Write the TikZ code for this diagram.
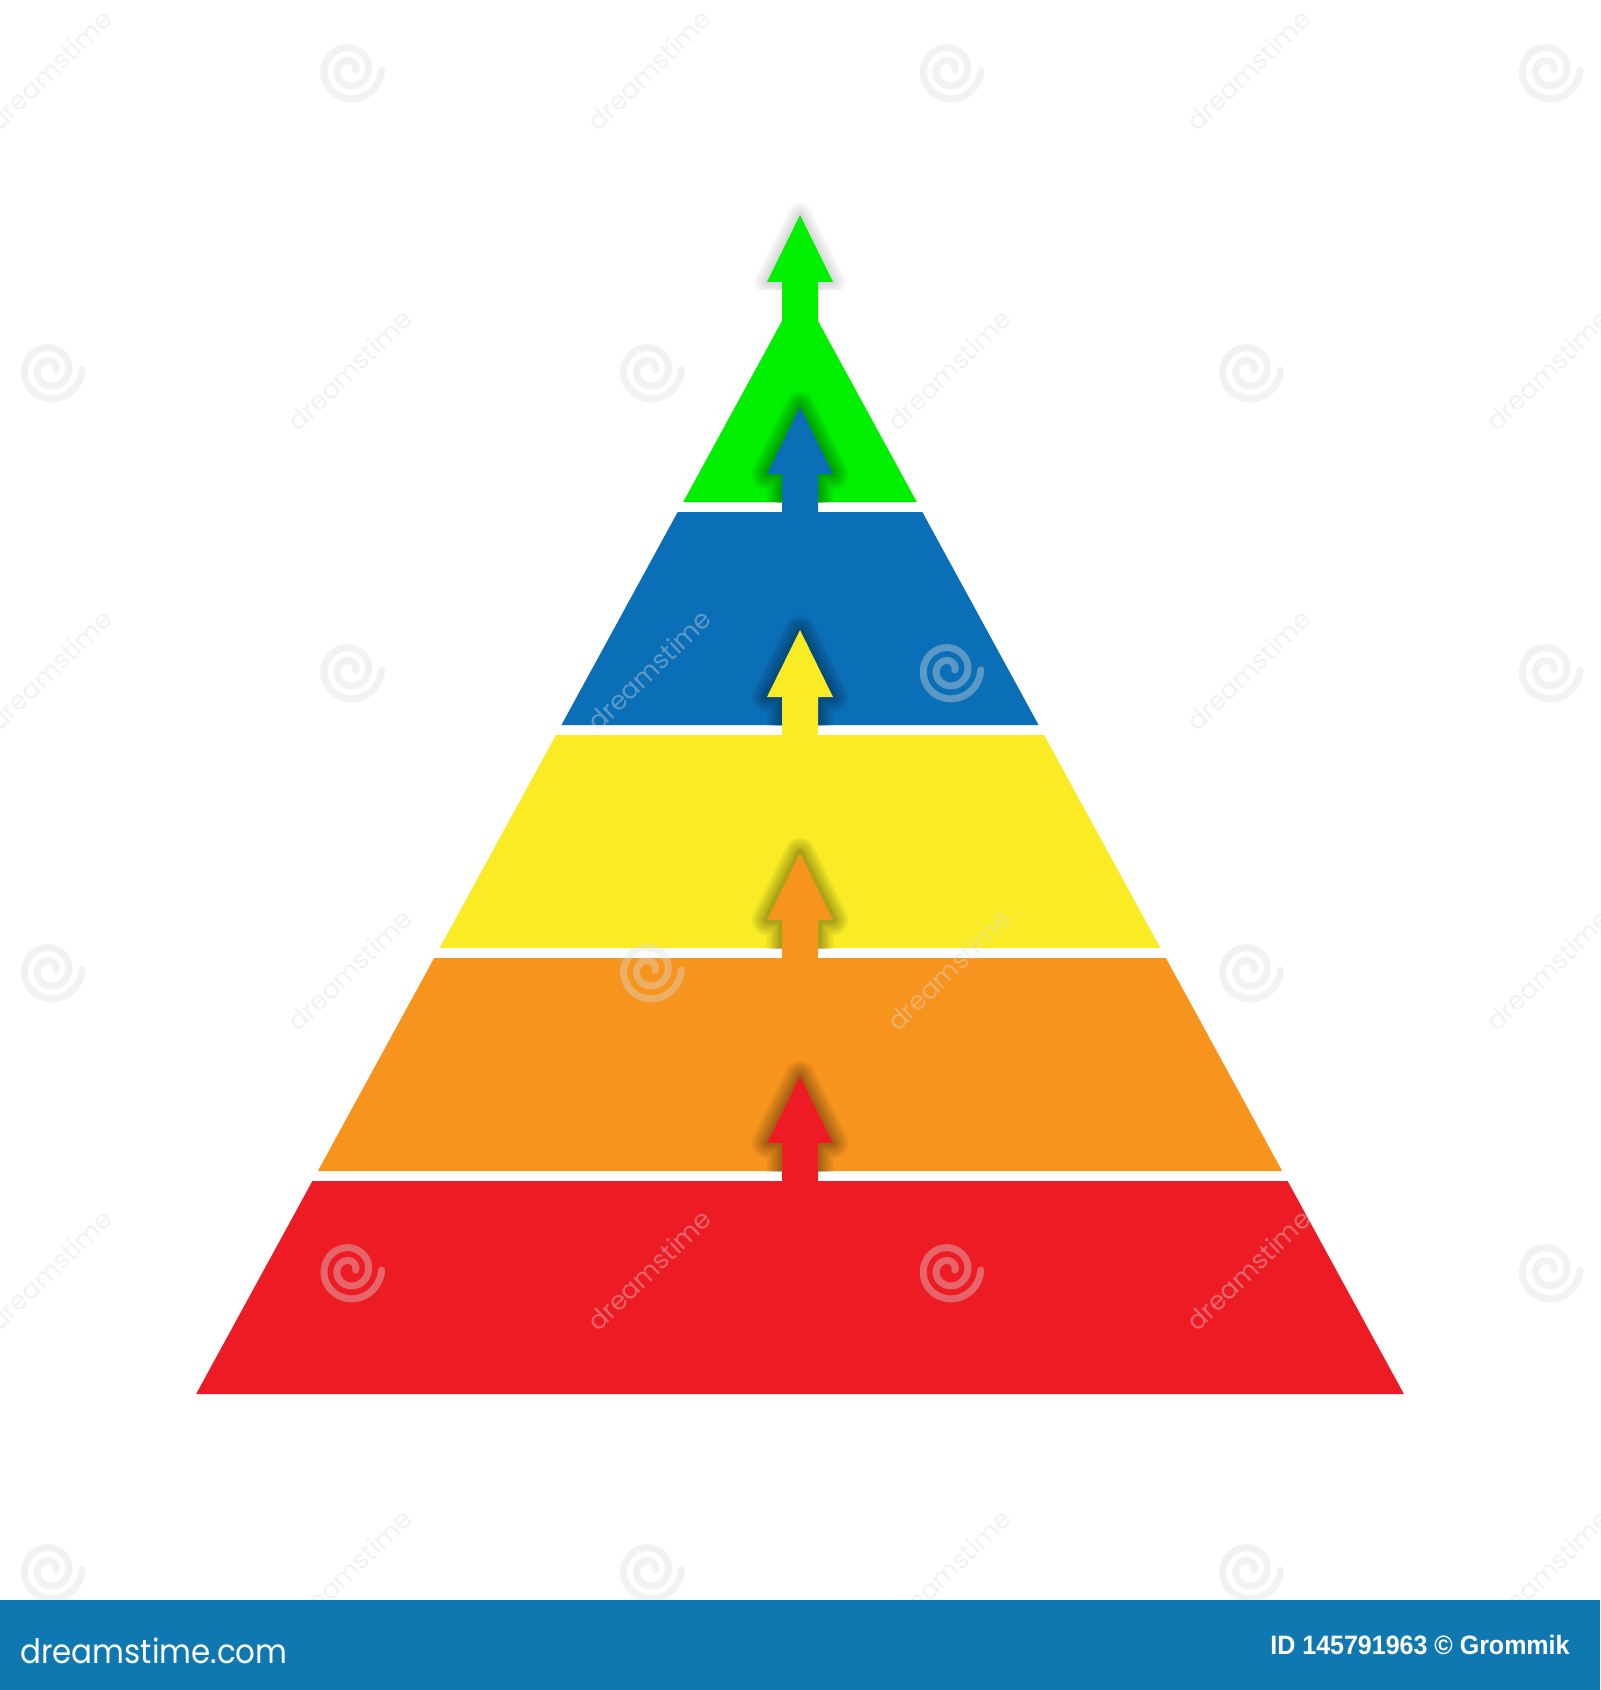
\documentclass[tikz,border=0pt]{standalone}
\usepackage{fontspec}
\newfontfamily\poppinsfont{Poppins}
\newfontfamily\labelsans{Liberation Sans}
\definecolor{pgreen}{HTML}{00F000}
\definecolor{pblue}{HTML}{0B6FB8}
\definecolor{pyellow}{HTML}{F9EC25}
\definecolor{porange}{HTML}{F7941E}
\definecolor{pred}{HTML}{ED1C24}
\definecolor{barblue}{HTML}{1078B0}
\newcommand\pyrband[3]{% colour, top, bottom
  \pgfmathsetmacro\bandTopHW{(#2-288)*0.546}
  \pgfmathsetmacro\bandBotHW{(#3-288)*0.546}
  \fill[#1] ({800-\bandTopHW},#2) -- ({800+\bandTopHW},#2) -- ({800+\bandBotHW},#3) -- ({800-\bandBotHW},#3) -- cycle;}
\newcommand\arrowpathat[1]{(782,#1) -- (782,{#1-38}) -- (767,{#1-38}) -- (800,{#1-105}) -- (833,{#1-38}) -- (818,{#1-38}) -- (818,#1) -- cycle}
\newcommand\uparrowband[2]{% colour, band top
  \begin{scope}
    \clip (0,0) rectangle (1600,{#2-10});
    \foreach \w in {30,25,20,15,10,6}{
      \draw[black,opacity=0.06,line width=\w*0.5pt,line join=round] \arrowpathat{#2};
    }
  \end{scope}
  \fill[#1] \arrowpathat{#2};}
\newcommand\wmspiral[2]{%
  \draw[white,opacity=0.35,line width=3.5pt,line cap=round,shift={(#1,#2)}]
    plot[domain=0:720,samples=90,smooth] ({\x}:{32-0.0361*\x});
  \draw[black,opacity=0.05,line width=3.5pt,line cap=round,shift={(#1,#2)}]
    plot[domain=0:720,samples=90,smooth] ({\x}:{32-0.0361*\x});}
\tikzset{
  wmtext/.style={rotate=44,font=\poppinsfont\fontsize{13}{13}\selectfont,inner sep=0pt},
}
\begin{document}
\begin{tikzpicture}[x=0.5pt,y=-0.5pt]
\useasboundingbox[fill=white] (0,0) rectangle (1600,1690);

% pyramid bands
\pyrband{pred}{1181}{1394}
\pyrband{porange}{958}{1171}
\pyrband{pyellow}{735}{948}
\pyrband{pblue}{512}{725}
\fill[pgreen] (800,288) -- ({800+116.8},502) -- ({800-116.8},502) -- cycle;

% top green arrow
\begin{scope}
  \clip (0,0) rectangle (1600,290);
  \foreach \w in {24,18,12,6}{
    \draw[black,opacity=0.035,line width=\w*0.5pt,line join=round]
      (782,300) -- (782,282) -- (767,282) -- (800,215) -- (833,282) -- (818,282) -- (818,300);
  }
\end{scope}
\fill[pgreen] (782,330) -- (782,282) -- (767,282) -- (800,215) -- (833,282) -- (818,282) -- (818,330) -- cycle;

% arrows rising from each band
\uparrowband{pblue}{512}
\uparrowband{pyellow}{735}
\uparrowband{porange}{958}
\uparrowband{pred}{1181}

% watermarks
\foreach \j in {0,...,5}{
  \foreach \k in {0,...,5}{
    \pgfmathtruncatemacro\wmodd{mod(\k+\j,2)}
    \pgfmathsetmacro\wx{50+299.6*\k}
    \pgfmathsetmacro\wy{70+300*\j}
    \ifnum\wmodd=1
      \wmspiral{\wx}{\wy}
    \else
      \node[wmtext,text=white,text opacity=0.35] (wm\j\k) at (\wx,\wy) {dreamstime};
      \node[wmtext,text=black,text opacity=0.05] (wg\j\k) at (\wx,\wy) {dreamstime};
    \fi
  }
}

% bottom bar
\fill[barblue] (0,1600) rectangle (1600,1690);
\node[anchor=base west,inner sep=0pt,text=white,font=\poppinsfont\fontsize{16.8}{18}\selectfont] (site) at (20,1663) {\scalebox{0.92}[1]{dreamstime.com}};
\node[anchor=base east,inner sep=0pt,text=white,font=\labelsans\bfseries\fontsize{13.3}{15}\selectfont] (imgid) at (1570,1654) {\scalebox{0.94}[1]{ID 145791963 © Grommik}};
\end{tikzpicture}
\end{document}
